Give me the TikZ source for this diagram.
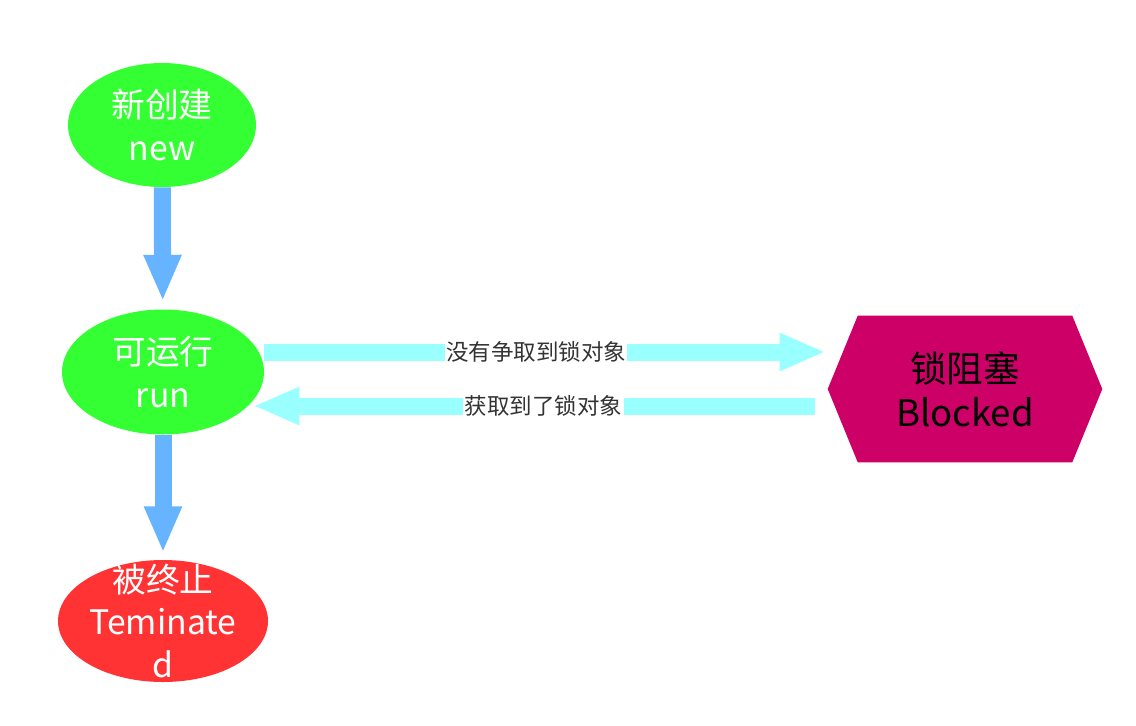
\documentclass[tikz,border=0pt]{standalone}
\usepackage{fontspec}
\setmainfont{Noto Sans CJK SC}
\usetikzlibrary{shapes.geometric, arrows.meta, positioning, calc, backgrounds}

\newlength\pxu
\setlength\pxu{0.025cm}
\definecolor{stategreen}{HTML}{33FF33}
\definecolor{statered}{HTML}{FF3333}
\definecolor{lockred}{HTML}{CC0066}
\definecolor{flowblue}{HTML}{66B3FF}
\definecolor{lockcyan}{HTML}{99FFFF}
\definecolor{labelgray}{HTML}{333333}

\begin{document}
\begin{tikzpicture}[
  x=\pxu, y=-\pxu,
  state/.style={ellipse, fill=stategreen, text=white, inner sep=0pt, align=center,
    font=\fontsize{24}{30.5}\selectfont},
  statetext/.style={text=white, inner sep=0pt, align=center, font=\fontsize{24}{30.5}\selectfont},
  blockstate/.style={rectangle, inner sep=0pt, minimum width=274\pxu, minimum height=146\pxu,
    align=center, font=\fontsize{26}{31}\selectfont},
  flow/.style={-{Triangle[length=1.16cm, width=0.87cm]}, line width=17\pxu, flowblue},
  lockarr/.style={-{Triangle[length=1.15cm, width=0.87cm]}, line width=17\pxu, lockcyan},
  lbl/.style={fill=white, text=labelgray, inner sep=1pt, font=\fontsize{16}{18}\selectfont}
]
\useasboundingbox (0,0) rectangle (1136,725);

\node[state, minimum width=188\pxu, minimum height=124\pxu] (new) at (162,125) {新创建\\new};
\node[state, minimum width=202\pxu, minimum height=125\pxu] (run) at (163,372) {可运行\\run};
\node[state, fill=statered, minimum width=210\pxu, minimum height=122\pxu,
  label={[statetext]center:被终止\\Teminate\\d}] (term) at (163,621) {};
\node[blockstate] (blocked) at (965,389) {锁阻塞\\Blocked};

% hexagon behind the blocked state
\begin{scope}[on background layer]
\fill[lockred] (blocked.west) -- ([xshift=30\pxu]blocked.north west) -- ([xshift=-30\pxu]blocked.north east)
  -- (blocked.east) -- ([xshift=-30\pxu]blocked.south east) -- ([xshift=30\pxu]blocked.south west) -- cycle;
\end{scope}

\draw[flow, shorten >=8\pxu] (new) -- (run);
\draw[flow, shorten >=7\pxu] (run) -- (term);

\coordinate (toB) at ([yshift=20\pxu]run.east);
\coordinate (fromB) at ([xshift=-13\pxu, yshift=-17\pxu]blocked.west);
\draw[lockarr, shorten >=2\pxu] (toB) -- node[lbl, xshift=-10\pxu] {没有争取到锁对象} (toB -| blocked.west);
\draw[lockarr, shorten >=-11\pxu] (fromB) -- node[lbl, xshift=4\pxu] {获取到了锁对象} (fromB -| run.east);

\end{tikzpicture}
\end{document}
